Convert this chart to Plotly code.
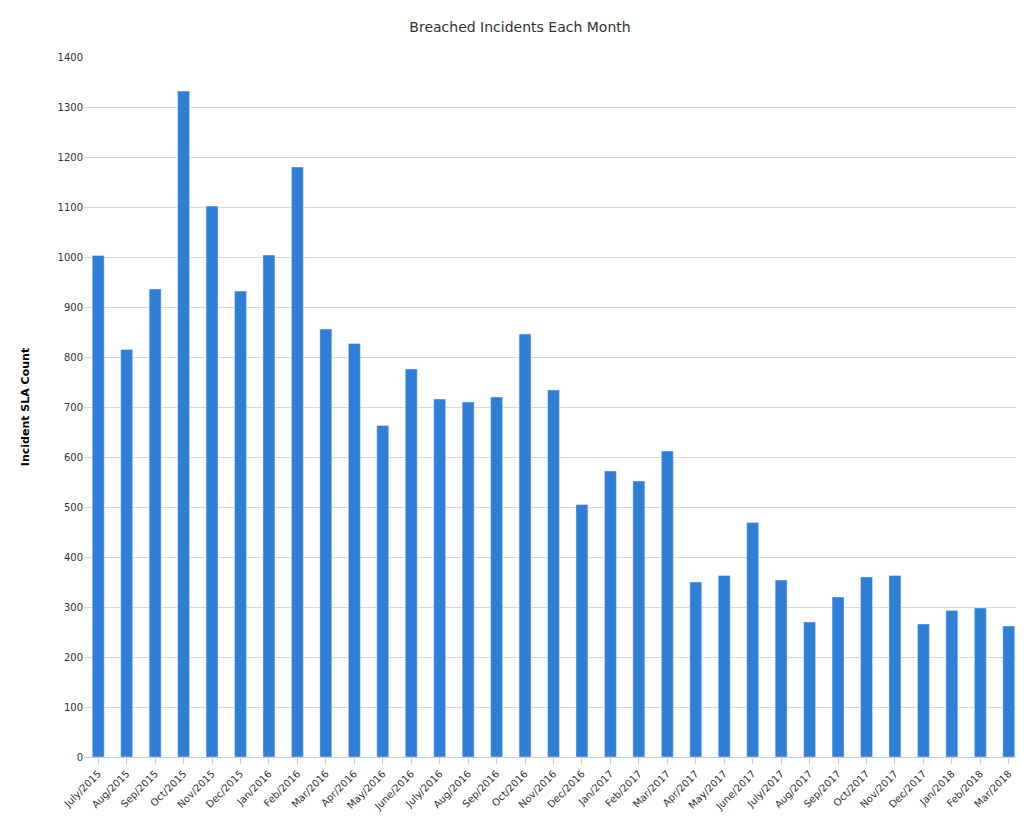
import plotly.graph_objects as go

months = ["July/2015","Aug/2015","Sep/2015","Oct/2015","Nov/2015","Dec/2015","Jan/2016","Feb/2016","Mar/2016","Apr/2016","May/2016","June/2016","July/2016","Aug/2016","Sep/2016","Oct/2016","Nov/2016","Dec/2016","Jan/2017","Feb/2017","Mar/2017","Apr/2017","May/2017","June/2017","July/2017","Aug/2017","Sep/2017","Oct/2017","Nov/2017","Dec/2017","Jan/2018","Feb/2018","Mar/2018"]
counts = [1003,815,936,1332,1102,932,1004,1180,856,827,663,776,716,710,720,846,734,505,572,552,612,350,363,469,354,270,320,360,363,266,293,298,262]
yticks = list(range(0, 1401, 100))

fig = go.Figure(go.Bar(x=months, y=counts, marker_color="#2f7ed8", width=0.42))
fig.update_layout(
    width=1024, height=829, paper_bgcolor="white", plot_bgcolor="white",
    font=dict(family="DejaVu Sans", size=11, color="#333"),
    title=dict(text="Breached Incidents Each Month", x=0.5, y=0.983, font=dict(size=14, color="#333")),
    margin=dict(l=76, r=9, t=49, b=80),
    showlegend=False, bargap=0.5,
)
fig.update_xaxes(tickangle=-45, tickfont=dict(size=10), showline=True, linecolor="#c0d0e0",
                 ticks="outside", tickcolor="#c0d0e0", ticklen=6)
fig.update_yaxes(range=[0, 1400], tickvals=yticks, gridcolor="#d8d8d8", zeroline=False,
                 tickfont=dict(size=10),
                 title=dict(text="<b>Incident SLA Count</b>", font=dict(size=11, color="#000"), standoff=25))
fig.write_html("out.html")
